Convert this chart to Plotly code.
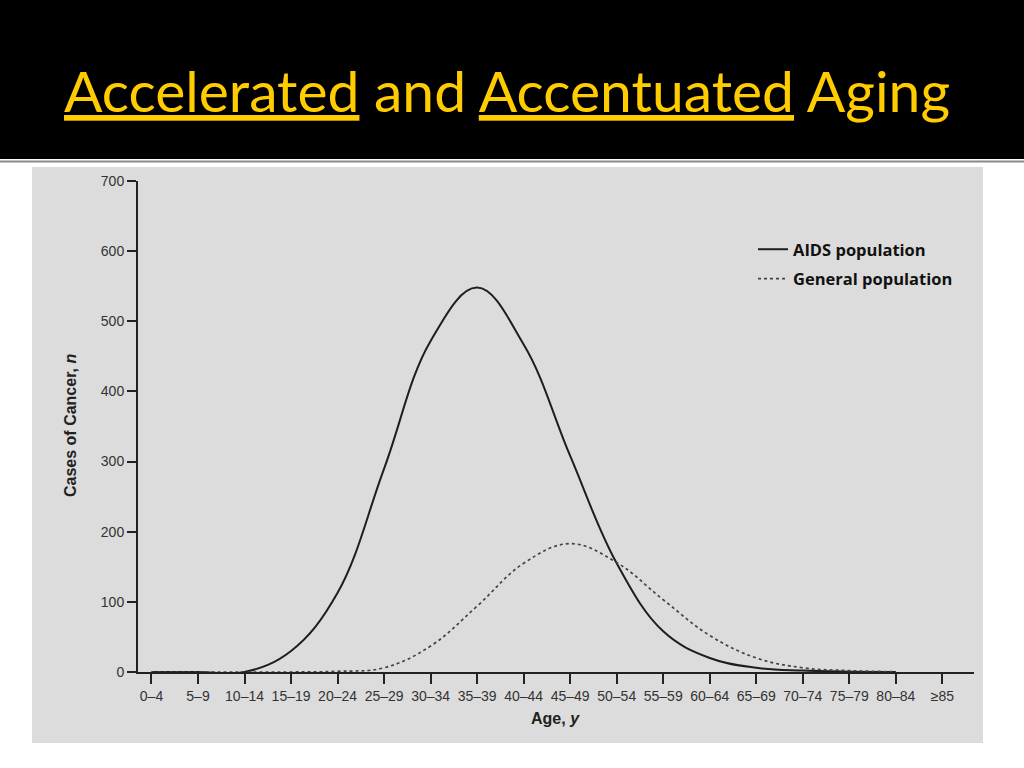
import plotly.graph_objects as go

ageGroups = ["0–4", "5–9", "10–14", "15–19", "20–24", "25–29", "30–34", "35–39", "40–44",
             "45–49", "50–54", "55–59", "60–64", "65–69", "70–74", "75–79", "80–84", "≥85"]
aidsCases = [0, 0, 0, 30, 113, 290, 472, 548, 467, 308, 155, 58, 20, 6, 2, 0.5, 0, None]
generalCases = [0, 0, 0, 0, 1, 6, 37, 94, 155, 183, 156, 103, 52, 20, 6, 2, 0.5, None]
yTicks = [0, 100, 200, 300, 400, 500, 600, 700]

W, H = 1024, 768

def px(x):
    return x / W

def py(y):
    return 1 - y / H

fig = go.Figure()
fig.add_trace(go.Scatter(x=ageGroups, y=aidsCases, mode="lines", name="AIDS population",
                         line=dict(color="#1e1e1e", width=2, shape="spline", smoothing=1.1),
                         legendgroup="a"))
fig.add_trace(go.Scatter(x=ageGroups, y=generalCases, mode="lines", name="General population",
                         line=dict(color="#444444", width=1.7, dash="dot", shape="spline", smoothing=1.1),
                         legendgroup="b"))

# slide background: black title band, separator line, grey chart panel
fig.add_shape(type="rect", xref="paper", yref="paper", x0=0, x1=1, y0=py(159), y1=1,
              fillcolor="black", line_width=0, layer="below")
fig.add_shape(type="line", xref="paper", yref="paper", x0=0, x1=1, y0=py(161.5), y1=py(161.5),
              line=dict(color="#8a8a8a", width=2), layer="below")
fig.add_shape(type="rect", xref="paper", yref="paper", x0=px(32), x1=px(983), y0=py(743), y1=py(167),
              fillcolor="#dcdcdc", line_width=0, layer="below")

fig.add_annotation(text="<u>Accelerated</u> and <u>Accentuated</u> Aging", xref="paper", yref="paper",
                   x=px(507), y=py(90), showarrow=False, xanchor="center", yanchor="middle",
                   font=dict(family="Lato", size=57, color="#FFCC00"))
fig.add_annotation(text="<b>Cases of Cancer, <i>n</i></b>", xref="paper", yref="paper",
                   x=px(70), y=py(426), showarrow=False, textangle=-90,
                   xanchor="center", yanchor="middle",
                   font=dict(family="Liberation Sans", size=16, color="#222222"))
fig.add_annotation(text="<b>Age, <i>y</i></b>", xref="paper", yref="paper",
                   x=px(555), y=py(718), showarrow=False, xanchor="center", yanchor="middle",
                   font=dict(family="Liberation Sans", size=16, color="#222222"))

fig.update_xaxes(domain=[px(138), px(974)], type="category", range=[-0.29, 17.68],
                 showline=True, linecolor="#222222", linewidth=2,
                 ticks="outside", ticklen=10, tickwidth=1.5, tickcolor="#222222",
                 showgrid=False, zeroline=False, automargin=False,
                 tickfont=dict(family="Liberation Sans", size=14, color="#333333"))
fig.update_yaxes(domain=[py(672), py(181)], range=[0, 700], tickvals=yTicks,
                 showline=True, linecolor="#222222", linewidth=2,
                 ticks="outside", ticklen=9, tickwidth=1.5, tickcolor="#222222",
                 showgrid=False, zeroline=False, automargin=False,
                 tickfont=dict(family="Liberation Sans", size=14, color="#333333"))

fig.update_layout(width=W, height=H, margin=dict(l=0, r=0, t=0, b=0),
                  paper_bgcolor="white", plot_bgcolor="rgba(0,0,0,0)",
                  showlegend=True,
                  legend=dict(x=px(753), y=py(232), xanchor="left", yanchor="top",
                              bgcolor="rgba(0,0,0,0)", tracegroupgap=5,
                              font=dict(family="Open Sans", size=16.5, color="#111111", weight="bold")))

fig.write_html("out.html", config={"displayModeBar": False},
               post_script="document.body.style.margin='0';")
